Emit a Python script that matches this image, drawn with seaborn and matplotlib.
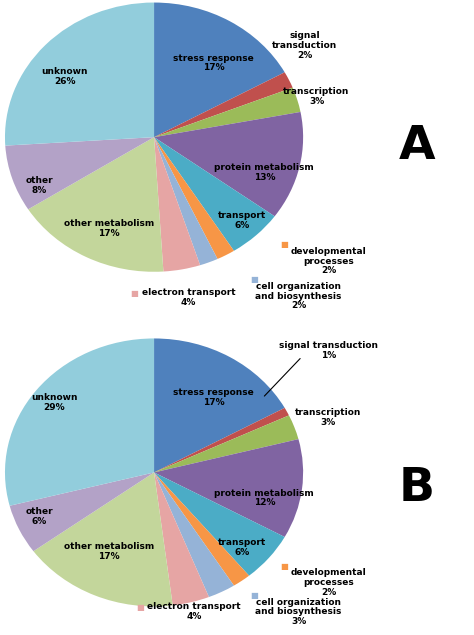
import matplotlib
matplotlib.use("Agg")
import matplotlib.pyplot as plt
import seaborn as sns

sns.set_theme(style="white")
plt.rcParams['font.family'] = ['DejaVu Sans']

categories = ["stress response", "signal transduction", "transcription", "protein metabolism",
              "transport", "developmental processes", "cell organization and biosynthesis",
              "electron transport", "other metabolism", "other", "unknown"]
label_text = ["stress response", "signal\ntransduction", "transcription", "protein metabolism",
              "transport", "developmental\nprocesses", "cell organization\nand biosynthesis",
              "electron transport", "other metabolism", "other", "unknown"]
label_text_b = list(label_text)
label_text_b[1] = "signal transduction"
values_a = [17, 2, 3, 13, 6, 2, 2, 4, 17, 8, 26]
values_b = [17, 1, 3, 12, 6, 2, 3, 4, 17, 6, 29]
colors = ["#4F81BD", "#C0504D", "#9BBB59", "#8064A2", "#4BACC6", "#F79646",
          "#95B3D7", "#E6A5A4", "#C3D69B", "#B3A2C7", "#92CDDC"]

pos_a = [(0.40, 0.55), (1.01, 0.68), (1.09, 0.30), (0.74, -0.26), (0.59, -0.62),
         (1.17, -0.92), (0.97, -1.18), (0.23, -1.19), (-0.30, -0.68), (-0.77, -0.36), (-0.60, 0.45)]
pos_b = [(0.40, 0.56), (1.17, 0.91), (1.17, 0.41), (0.74, -0.19), (0.59, -0.56),
         (1.17, -0.82), (0.97, -1.04), (0.27, -1.04), (-0.30, -0.59), (-0.77, -0.33), (-0.67, 0.52)]

fig = plt.figure(figsize=(4.74, 6.35), dpi=100)
specs = [([0.0105, 0.572, 0.629, 0.424], values_a, pos_a, label_text, "A", 0.77),
         ([0.0105, 0.045, 0.629, 0.422], values_b, pos_b, label_text_b, "B", 0.23)]
for rect, vals, pos, texts, letter, ly in specs:
    ax = fig.add_axes(rect)
    ax.pie(vals, colors=colors, startangle=90, counterclock=False,
           wedgeprops=dict(linewidth=0))
    ax.set_aspect('auto')
    ax.set_xlim(-1, 1); ax.set_ylim(-1, 1)
    for i, (t, v) in enumerate(zip(texts, vals)):
        x, y = pos[i]
        ax.text(x, y, f"{t}\n{v}%", ha="center", va="center", fontsize=6.5,
                fontweight="bold", clip_on=False, linespacing=1.1,
                color="black")
        if i in (5, 6, 7):
            ax.text(x - 0.30 if i != 7 else x - 0.36, y + (0.12 if i != 7 else 0.03), "■",
                    color=colors[i], fontsize=6, ha="center", va="center", clip_on=False)
    if letter == "B":
        ax.plot([0.98, 0.74], [0.85, 0.57], color="black", lw=0.8, clip_on=False)
    fig.text(0.88, ly, letter, fontsize=34, fontweight="bold", ha="center", va="center",
             color="black")

fig.savefig("out.png", dpi=100)
